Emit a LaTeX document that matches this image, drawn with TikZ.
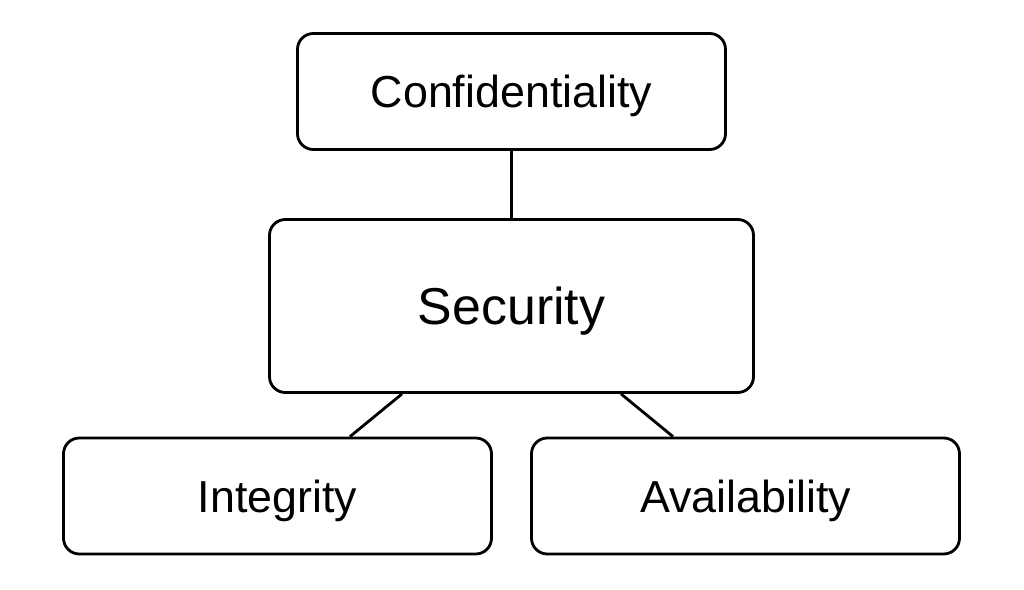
\documentclass[tikz,border=0pt]{standalone}
\usepackage{fontspec}
\setmainfont{Liberation Sans}
\usetikzlibrary{calc}

\begin{document}
\begin{tikzpicture}[
    pillarbox/.style={rectangle, draw=black, rounded corners=9pt, line width=1.6pt,
                      minimum width=8.56cm, minimum height=2.32cm, text depth=0pt,
                      font=\fontsize{25.5}{30}\selectfont},
    corebox/.style={pillarbox, minimum width=9.68cm, minimum height=3.46cm,
                    font=\fontsize{29.5}{34}\selectfont},
    link/.style={line width=1.6pt, black}
  ]
    \useasboundingbox (0,0) rectangle (20.48,11.8);

    \node[pillarbox] (conf) at (10.23,9.97) {Confidentiality};
    \node[corebox] (sec) at (10.23,5.68) {Security};
    \node[pillarbox] (integ) at (5.55,1.88) {Integrity};
    \node[pillarbox] (avail) at (14.91,1.88) {Availability};

    % connectors
    \draw[link] (conf.south) -- (sec.north);
    \draw[link] ($(sec.south)+(-2.19,0)$) -- ($(integ.north)+(1.45,0)$);
    \draw[link] ($(sec.south)+(2.19,0)$) -- ($(avail.north)+(-1.45,0)$);
\end{tikzpicture}
\end{document}
